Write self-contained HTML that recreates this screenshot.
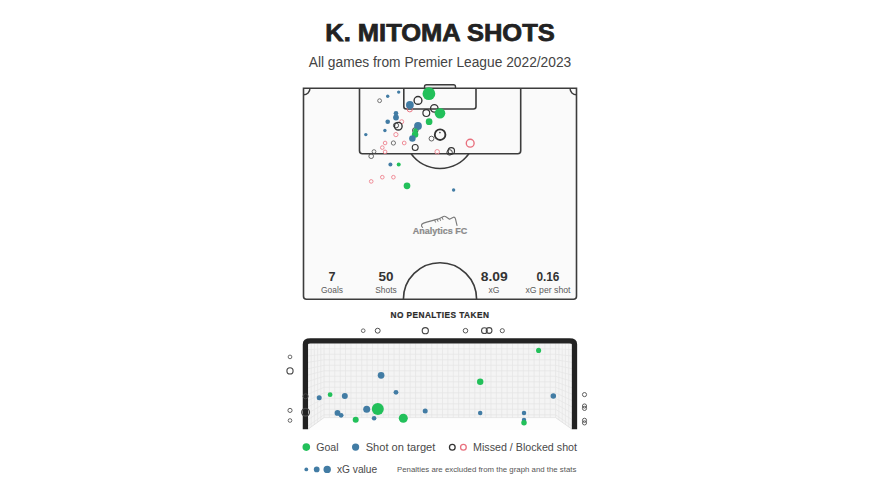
<!DOCTYPE html>
<html><head><meta charset="utf-8"><title>K. Mitoma Shots</title>
<style>html,body{margin:0;padding:0;background:#fff;width:880px;height:495px;overflow:hidden}svg{display:block}</style>
</head><body>
<svg width="880" height="495" viewBox="0 0 880 495" font-family='"Liberation Sans", Arial, sans-serif'>
<rect width="880" height="495" fill="#ffffff"/>
<path d="M424.5,88.3 L424.5,86.8 Q424.5,84.8 426.5,84.8 L453.5,84.8 Q455.5,84.8 455.5,86.8 L455.5,88.3" fill="#ececec" stroke="#3c3c3c" stroke-width="1.4"/><path d="M303.5,88.3 L576.5,88.3 L576.5,296.3 Q576.5,299.3 573.5,299.3 L306.5,299.3 Q303.5,299.3 303.5,296.3 Z" fill="#fafafa" stroke="#3c3c3c" stroke-width="1.6"/><path d="M359.5,88.3 L359.5,150.8 Q359.5,153.8 362.5,153.8 L517.7,153.8 Q520.7,153.8 520.7,150.8 L520.7,88.3" fill="none" stroke="#3c3c3c" stroke-width="1.6"/><path d="M403.8,88.3 L403.8,106.5 Q403.8,109.0 406.3,109.0 L473.5,109.0 Q476.0,109.0 476.0,106.5 L476.0,88.3" fill="none" stroke="#3c3c3c" stroke-width="1.6"/><path d="M411.13,153.8 A35.7,35.7 0 0 0 468.87,153.8" fill="none" stroke="#3c3c3c" stroke-width="1.6"/><path d="M403.4,299.3 A36.6,36.6 0 0 1 476.6,299.3" fill="none" stroke="#3c3c3c" stroke-width="1.6"/><path d="M310.0,88.3 A6.5,6.5 0 0 1 303.5,94.8" fill="none" stroke="#3c3c3c" stroke-width="1.4"/><path d="M570.0,88.3 A6.5,6.5 0 0 0 576.5,94.8" fill="none" stroke="#3c3c3c" stroke-width="1.4"/>
<path d="M422.6,227.4 C421,226 420.9,224.1 423.6,223.1 C428,221.6 434,220.4 438.6,218.9 L443.4,216.5 Q444.8,215.8 446.3,217 L449.5,219.2 L453.4,217.2 Q454.8,216.8 455.4,218.6 L457,225.4" fill="none" stroke="#7a7a7a" stroke-width="1.15" stroke-linejoin="round" stroke-linecap="round"/><path d="M434.6,219.9 l1,2.6 M437.1,219.1 l1,2.6 M439.6,218.2 l1,2.6 M442.1,217.2 l1,2.6" stroke="#7a7a7a" stroke-width="1"/>
<circle cx="398.7" cy="92.1" r="1.70" fill="#427ca4"/><circle cx="387.7" cy="96.3" r="1.70" fill="#427ca4"/><circle cx="379.6" cy="100.7" r="1.92" fill="none" stroke="#4a4a4a" stroke-width="0.75"/><circle cx="409.8" cy="109.3" r="2.62" fill="none" stroke="#e8707e" stroke-width="0.95"/><circle cx="409.9" cy="104.9" r="3.90" fill="#427ca4"/><circle cx="428.9" cy="93.7" r="6.40" fill="#22c05a"/><circle cx="418" cy="100.4" r="3.91" fill="none" stroke="#333333" stroke-width="1.38"/><circle cx="434.3" cy="108.3" r="3.74" fill="none" stroke="#333333" stroke-width="1.32"/><circle cx="426.3" cy="113.1" r="3.40" fill="none" stroke="#333333" stroke-width="1.2"/><circle cx="440" cy="113.3" r="5.30" fill="#22c05a"/><circle cx="396" cy="113.2" r="2.30" fill="#427ca4"/><circle cx="396" cy="117.5" r="2.90" fill="#427ca4"/><circle cx="387.7" cy="121.7" r="2.30" fill="#427ca4"/><circle cx="401.7" cy="121.7" r="2.02" fill="none" stroke="#ee8792" stroke-width="0.95"/><circle cx="396" cy="125.4" r="2.55" fill="none" stroke="#333333" stroke-width="0.8999999999999999"/><circle cx="398.3" cy="126.2" r="3.83" fill="none" stroke="#333333" stroke-width="1.3499999999999999"/><circle cx="429.1" cy="121.7" r="3.35" fill="#22c05a"/><circle cx="415.3" cy="130.4" r="2.76" fill="none" stroke="#333333" stroke-width="0.975"/><circle cx="418" cy="126" r="3.90" fill="#427ca4"/><circle cx="415.4" cy="130.6" r="2.25" fill="#22c05a"/><circle cx="415.1" cy="134.5" r="3.25" fill="#22c05a"/><circle cx="412.4" cy="138.6" r="3.25" fill="#427ca4"/><circle cx="440.1" cy="134.7" r="5.31" fill="none" stroke="#333333" stroke-width="1.875"/><circle cx="439.9" cy="132.5" r="0.85" fill="#444"/><circle cx="431.5" cy="138.6" r="2.42" fill="none" stroke="#4a4a4a" stroke-width="0.855"/><circle cx="384.9" cy="130.5" r="1.70" fill="#427ca4"/><circle cx="365.8" cy="134.6" r="1.70" fill="#427ca4"/><circle cx="395.9" cy="134.6" r="2.12" fill="none" stroke="#ee8792" stroke-width="0.95"/><circle cx="385.1" cy="143" r="1.82" fill="none" stroke="#ee8792" stroke-width="0.95"/><circle cx="393.4" cy="143" r="2.12" fill="none" stroke="#4a4a4a" stroke-width="0.75"/><circle cx="404.2" cy="143" r="1.88" fill="none" stroke="#ee8792" stroke-width="0.95"/><circle cx="382.3" cy="147.6" r="1.82" fill="none" stroke="#ee8792" stroke-width="0.95"/><circle cx="385.1" cy="151.9" r="1.82" fill="none" stroke="#ee8792" stroke-width="0.95"/><circle cx="374" cy="151.6" r="1.92" fill="none" stroke="#4a4a4a" stroke-width="0.75"/><circle cx="371.2" cy="156.2" r="2.34" fill="none" stroke="#4a4a4a" stroke-width="0.825"/><circle cx="415.2" cy="147.5" r="2.98" fill="none" stroke="#333333" stroke-width="1.05"/><circle cx="437.2" cy="151.8" r="2.27" fill="none" stroke="#ee8792" stroke-width="0.95"/><circle cx="451.3" cy="150.9" r="3.23" fill="none" stroke="#333333" stroke-width="1.14"/><circle cx="449.6" cy="152.4" r="2.72" fill="none" stroke="#333333" stroke-width="0.96"/><circle cx="470.2" cy="143.2" r="3.91" fill="none" stroke="#e8707e" stroke-width="1.38"/><circle cx="390.4" cy="164.4" r="2.00" fill="#427ca4"/><circle cx="398.7" cy="164.4" r="2.00" fill="#22c05a"/><circle cx="382.3" cy="177.2" r="1.82" fill="none" stroke="#ee8792" stroke-width="0.95"/><circle cx="393.4" cy="177.2" r="1.82" fill="none" stroke="#ee8792" stroke-width="0.95"/><circle cx="371.2" cy="181.4" r="1.82" fill="none" stroke="#ee8792" stroke-width="0.95"/><circle cx="407" cy="185.8" r="3.35" fill="#22c05a"/><circle cx="453.6" cy="190" r="1.70" fill="#427ca4"/>
<rect x="308.0" y="343.6" width="264.0" height="85.59999999999997" fill="#f4f4f4"/><path d="M308.0,429.2 L324.0,417.6 L555.6,417.6 L572.0,429.2 Z" fill="#fdfdfd"/><line x1="329.39" y1="343.6" x2="329.39" y2="417.6" stroke="#e6e6e6" stroke-width="0.75"/><line x1="334.77" y1="343.6" x2="334.77" y2="417.6" stroke="#e6e6e6" stroke-width="0.75"/><line x1="340.16" y1="343.6" x2="340.16" y2="417.6" stroke="#e6e6e6" stroke-width="0.75"/><line x1="345.54" y1="343.6" x2="345.54" y2="417.6" stroke="#e6e6e6" stroke-width="0.75"/><line x1="350.93" y1="343.6" x2="350.93" y2="417.6" stroke="#e6e6e6" stroke-width="0.75"/><line x1="356.32" y1="343.6" x2="356.32" y2="417.6" stroke="#e6e6e6" stroke-width="0.75"/><line x1="361.70" y1="343.6" x2="361.70" y2="417.6" stroke="#e6e6e6" stroke-width="0.75"/><line x1="367.09" y1="343.6" x2="367.09" y2="417.6" stroke="#e6e6e6" stroke-width="0.75"/><line x1="372.47" y1="343.6" x2="372.47" y2="417.6" stroke="#e6e6e6" stroke-width="0.75"/><line x1="377.86" y1="343.6" x2="377.86" y2="417.6" stroke="#e6e6e6" stroke-width="0.75"/><line x1="383.25" y1="343.6" x2="383.25" y2="417.6" stroke="#e6e6e6" stroke-width="0.75"/><line x1="388.63" y1="343.6" x2="388.63" y2="417.6" stroke="#e6e6e6" stroke-width="0.75"/><line x1="394.02" y1="343.6" x2="394.02" y2="417.6" stroke="#e6e6e6" stroke-width="0.75"/><line x1="399.40" y1="343.6" x2="399.40" y2="417.6" stroke="#e6e6e6" stroke-width="0.75"/><line x1="404.79" y1="343.6" x2="404.79" y2="417.6" stroke="#e6e6e6" stroke-width="0.75"/><line x1="410.18" y1="343.6" x2="410.18" y2="417.6" stroke="#e6e6e6" stroke-width="0.75"/><line x1="415.56" y1="343.6" x2="415.56" y2="417.6" stroke="#e6e6e6" stroke-width="0.75"/><line x1="420.95" y1="343.6" x2="420.95" y2="417.6" stroke="#e6e6e6" stroke-width="0.75"/><line x1="426.33" y1="343.6" x2="426.33" y2="417.6" stroke="#e6e6e6" stroke-width="0.75"/><line x1="431.72" y1="343.6" x2="431.72" y2="417.6" stroke="#e6e6e6" stroke-width="0.75"/><line x1="437.11" y1="343.6" x2="437.11" y2="417.6" stroke="#e6e6e6" stroke-width="0.75"/><line x1="442.49" y1="343.6" x2="442.49" y2="417.6" stroke="#e6e6e6" stroke-width="0.75"/><line x1="447.88" y1="343.6" x2="447.88" y2="417.6" stroke="#e6e6e6" stroke-width="0.75"/><line x1="453.27" y1="343.6" x2="453.27" y2="417.6" stroke="#e6e6e6" stroke-width="0.75"/><line x1="458.65" y1="343.6" x2="458.65" y2="417.6" stroke="#e6e6e6" stroke-width="0.75"/><line x1="464.04" y1="343.6" x2="464.04" y2="417.6" stroke="#e6e6e6" stroke-width="0.75"/><line x1="469.42" y1="343.6" x2="469.42" y2="417.6" stroke="#e6e6e6" stroke-width="0.75"/><line x1="474.81" y1="343.6" x2="474.81" y2="417.6" stroke="#e6e6e6" stroke-width="0.75"/><line x1="480.20" y1="343.6" x2="480.20" y2="417.6" stroke="#e6e6e6" stroke-width="0.75"/><line x1="485.58" y1="343.6" x2="485.58" y2="417.6" stroke="#e6e6e6" stroke-width="0.75"/><line x1="490.97" y1="343.6" x2="490.97" y2="417.6" stroke="#e6e6e6" stroke-width="0.75"/><line x1="496.35" y1="343.6" x2="496.35" y2="417.6" stroke="#e6e6e6" stroke-width="0.75"/><line x1="501.74" y1="343.6" x2="501.74" y2="417.6" stroke="#e6e6e6" stroke-width="0.75"/><line x1="507.13" y1="343.6" x2="507.13" y2="417.6" stroke="#e6e6e6" stroke-width="0.75"/><line x1="512.51" y1="343.6" x2="512.51" y2="417.6" stroke="#e6e6e6" stroke-width="0.75"/><line x1="517.90" y1="343.6" x2="517.90" y2="417.6" stroke="#e6e6e6" stroke-width="0.75"/><line x1="523.28" y1="343.6" x2="523.28" y2="417.6" stroke="#e6e6e6" stroke-width="0.75"/><line x1="528.67" y1="343.6" x2="528.67" y2="417.6" stroke="#e6e6e6" stroke-width="0.75"/><line x1="534.06" y1="343.6" x2="534.06" y2="417.6" stroke="#e6e6e6" stroke-width="0.75"/><line x1="539.44" y1="343.6" x2="539.44" y2="417.6" stroke="#e6e6e6" stroke-width="0.75"/><line x1="544.83" y1="343.6" x2="544.83" y2="417.6" stroke="#e6e6e6" stroke-width="0.75"/><line x1="550.21" y1="343.6" x2="550.21" y2="417.6" stroke="#e6e6e6" stroke-width="0.75"/><line x1="324.0" y1="348.80" x2="555.6" y2="348.80" stroke="#e6e6e6" stroke-width="0.75"/><line x1="324.0" y1="354.30" x2="555.6" y2="354.30" stroke="#e6e6e6" stroke-width="0.75"/><line x1="324.0" y1="359.80" x2="555.6" y2="359.80" stroke="#e6e6e6" stroke-width="0.75"/><line x1="324.0" y1="365.30" x2="555.6" y2="365.30" stroke="#e6e6e6" stroke-width="0.75"/><line x1="324.0" y1="370.80" x2="555.6" y2="370.80" stroke="#e6e6e6" stroke-width="0.75"/><line x1="324.0" y1="376.30" x2="555.6" y2="376.30" stroke="#e6e6e6" stroke-width="0.75"/><line x1="324.0" y1="381.80" x2="555.6" y2="381.80" stroke="#e6e6e6" stroke-width="0.75"/><line x1="324.0" y1="387.30" x2="555.6" y2="387.30" stroke="#e6e6e6" stroke-width="0.75"/><line x1="324.0" y1="392.80" x2="555.6" y2="392.80" stroke="#e6e6e6" stroke-width="0.75"/><line x1="324.0" y1="398.30" x2="555.6" y2="398.30" stroke="#e6e6e6" stroke-width="0.75"/><line x1="324.0" y1="403.80" x2="555.6" y2="403.80" stroke="#e6e6e6" stroke-width="0.75"/><line x1="324.0" y1="409.30" x2="555.6" y2="409.30" stroke="#e6e6e6" stroke-width="0.75"/><line x1="324.0" y1="414.80" x2="555.6" y2="414.80" stroke="#e6e6e6" stroke-width="0.75"/><line x1="311.20" y1="343.6" x2="311.20" y2="426.88" stroke="#e6e6e6" stroke-width="0.75"/><line x1="568.72" y1="343.6" x2="568.72" y2="426.88" stroke="#e6e6e6" stroke-width="0.75"/><line x1="314.40" y1="343.6" x2="314.40" y2="424.56" stroke="#e6e6e6" stroke-width="0.75"/><line x1="565.44" y1="343.6" x2="565.44" y2="424.56" stroke="#e6e6e6" stroke-width="0.75"/><line x1="317.60" y1="343.6" x2="317.60" y2="422.24" stroke="#e6e6e6" stroke-width="0.75"/><line x1="562.16" y1="343.6" x2="562.16" y2="422.24" stroke="#e6e6e6" stroke-width="0.75"/><line x1="320.80" y1="343.6" x2="320.80" y2="419.92" stroke="#e6e6e6" stroke-width="0.75"/><line x1="558.88" y1="343.6" x2="558.88" y2="419.92" stroke="#e6e6e6" stroke-width="0.75"/><line x1="308.0" y1="349.62" x2="324.0" y2="348.80" stroke="#e6e6e6" stroke-width="0.75"/><line x1="572.0" y1="349.62" x2="555.6" y2="348.80" stroke="#e6e6e6" stroke-width="0.75"/><line x1="308.0" y1="355.98" x2="324.0" y2="354.30" stroke="#e6e6e6" stroke-width="0.75"/><line x1="572.0" y1="355.98" x2="555.6" y2="354.30" stroke="#e6e6e6" stroke-width="0.75"/><line x1="308.0" y1="362.34" x2="324.0" y2="359.80" stroke="#e6e6e6" stroke-width="0.75"/><line x1="572.0" y1="362.34" x2="555.6" y2="359.80" stroke="#e6e6e6" stroke-width="0.75"/><line x1="308.0" y1="368.70" x2="324.0" y2="365.30" stroke="#e6e6e6" stroke-width="0.75"/><line x1="572.0" y1="368.70" x2="555.6" y2="365.30" stroke="#e6e6e6" stroke-width="0.75"/><line x1="308.0" y1="375.06" x2="324.0" y2="370.80" stroke="#e6e6e6" stroke-width="0.75"/><line x1="572.0" y1="375.06" x2="555.6" y2="370.80" stroke="#e6e6e6" stroke-width="0.75"/><line x1="308.0" y1="381.43" x2="324.0" y2="376.30" stroke="#e6e6e6" stroke-width="0.75"/><line x1="572.0" y1="381.43" x2="555.6" y2="376.30" stroke="#e6e6e6" stroke-width="0.75"/><line x1="308.0" y1="387.79" x2="324.0" y2="381.80" stroke="#e6e6e6" stroke-width="0.75"/><line x1="572.0" y1="387.79" x2="555.6" y2="381.80" stroke="#e6e6e6" stroke-width="0.75"/><line x1="308.0" y1="394.15" x2="324.0" y2="387.30" stroke="#e6e6e6" stroke-width="0.75"/><line x1="572.0" y1="394.15" x2="555.6" y2="387.30" stroke="#e6e6e6" stroke-width="0.75"/><line x1="308.0" y1="400.51" x2="324.0" y2="392.80" stroke="#e6e6e6" stroke-width="0.75"/><line x1="572.0" y1="400.51" x2="555.6" y2="392.80" stroke="#e6e6e6" stroke-width="0.75"/><line x1="308.0" y1="406.87" x2="324.0" y2="398.30" stroke="#e6e6e6" stroke-width="0.75"/><line x1="572.0" y1="406.87" x2="555.6" y2="398.30" stroke="#e6e6e6" stroke-width="0.75"/><line x1="308.0" y1="413.24" x2="324.0" y2="403.80" stroke="#e6e6e6" stroke-width="0.75"/><line x1="572.0" y1="413.24" x2="555.6" y2="403.80" stroke="#e6e6e6" stroke-width="0.75"/><line x1="308.0" y1="419.60" x2="324.0" y2="409.30" stroke="#e6e6e6" stroke-width="0.75"/><line x1="572.0" y1="419.60" x2="555.6" y2="409.30" stroke="#e6e6e6" stroke-width="0.75"/><line x1="308.0" y1="425.96" x2="324.0" y2="414.80" stroke="#e6e6e6" stroke-width="0.75"/><line x1="572.0" y1="425.96" x2="555.6" y2="414.80" stroke="#e6e6e6" stroke-width="0.75"/><line x1="324.0" y1="343.6" x2="324.0" y2="417.6" stroke="#e4e4e4" stroke-width="0.8"/><line x1="555.6" y1="343.6" x2="555.6" y2="417.6" stroke="#e4e4e4" stroke-width="0.8"/><line x1="308.0" y1="429.2" x2="324.0" y2="417.6" stroke="#e0e0e0" stroke-width="0.9"/><line x1="572.0" y1="429.2" x2="555.6" y2="417.6" stroke="#e0e0e0" stroke-width="0.9"/><line x1="324.0" y1="417.6" x2="555.6" y2="417.6" stroke="#e2e2e2" stroke-width="0.8"/><path d="M305.4,429.2 L305.4,344.2 Q305.4,340.9 310.4,340.9 L569.5,340.9 Q574.5,340.9 574.5,344.2 L574.5,429.2" fill="none" stroke="#222" stroke-width="5.3"/>
<circle cx="363.2" cy="330.7" r="1.85" fill="none" stroke="#474747" stroke-width="0.79"/><circle cx="377.7" cy="330.7" r="2.47" fill="none" stroke="#474747" stroke-width="0.958"/><circle cx="425.3" cy="330.7" r="3.09" fill="none" stroke="#474747" stroke-width="1.126"/><circle cx="465.5" cy="330.7" r="2.29" fill="none" stroke="#474747" stroke-width="0.9099999999999999"/><circle cx="484.4" cy="330.7" r="2.87" fill="none" stroke="#474747" stroke-width="1.0659999999999998"/><circle cx="489.1" cy="330.5" r="2.87" fill="none" stroke="#474747" stroke-width="1.0659999999999998"/><circle cx="502.3" cy="330.7" r="2.08" fill="none" stroke="#474747" stroke-width="0.85"/><circle cx="290" cy="356.9" r="1.85" fill="none" stroke="#474747" stroke-width="0.79"/><circle cx="290" cy="370.9" r="3.09" fill="none" stroke="#474747" stroke-width="1.126"/><circle cx="290" cy="410.4" r="2.08" fill="none" stroke="#474747" stroke-width="0.85"/><circle cx="290" cy="420.5" r="1.85" fill="none" stroke="#474747" stroke-width="0.79"/><circle cx="305.6" cy="396.3" r="2.52" fill="none" stroke="#474747" stroke-width="0.97"/><circle cx="305.6" cy="412.2" r="3.83" fill="none" stroke="#474747" stroke-width="1.33"/><circle cx="584.5" cy="394.6" r="2.08" fill="none" stroke="#474747" stroke-width="0.85"/><circle cx="584.5" cy="406.0" r="2.08" fill="none" stroke="#474747" stroke-width="0.85"/><circle cx="584.5" cy="408.4" r="2.08" fill="none" stroke="#474747" stroke-width="0.85"/><circle cx="584.5" cy="420.3" r="2.08" fill="none" stroke="#474747" stroke-width="0.85"/><circle cx="584.5" cy="422.9" r="2.08" fill="none" stroke="#474747" stroke-width="0.85"/><circle cx="381.1" cy="375.3" r="3.35" fill="#427ca4"/><circle cx="319.2" cy="397.7" r="2.50" fill="#427ca4"/><circle cx="330.1" cy="394.7" r="2.40" fill="#22c05a"/><circle cx="344.8" cy="395.9" r="3.00" fill="#427ca4"/><circle cx="337.5" cy="412.9" r="2.90" fill="#427ca4"/><circle cx="341.1" cy="415.3" r="2.40" fill="#427ca4"/><circle cx="366.7" cy="409.2" r="3.50" fill="#427ca4"/><circle cx="377.8" cy="409.0" r="6.00" fill="#22c05a"/><circle cx="355.7" cy="419.8" r="3.00" fill="#22c05a"/><circle cx="374.1" cy="418.3" r="2.30" fill="#427ca4"/><circle cx="396" cy="392.3" r="2.40" fill="#427ca4"/><circle cx="425.2" cy="411.1" r="2.50" fill="#427ca4"/><circle cx="403.3" cy="418.3" r="4.50" fill="#22c05a"/><circle cx="538.6" cy="350.4" r="2.55" fill="#22c05a"/><circle cx="480.2" cy="381.8" r="3.20" fill="#22c05a"/><circle cx="553.3" cy="396" r="2.75" fill="#427ca4"/><circle cx="480.2" cy="413.1" r="2.25" fill="#427ca4"/><circle cx="524" cy="413.1" r="2.25" fill="#427ca4"/><circle cx="524" cy="420.1" r="2.25" fill="#427ca4"/><circle cx="524" cy="422.8" r="2.75" fill="#22c05a"/>
<circle cx="306.3" cy="447.1" r="3.80" fill="#22c05a"/><circle cx="355.6" cy="447.1" r="3.60" fill="#427ca4"/><circle cx="452.3" cy="447.2" r="2.85" fill="none" stroke="#333333" stroke-width="1.3"/><circle cx="463.4" cy="447.2" r="2.85" fill="none" stroke="#e8707e" stroke-width="1.3"/><circle cx="306.3" cy="469.4" r="1.90" fill="#427ca4"/><circle cx="316.7" cy="469.4" r="2.85" fill="#427ca4"/><circle cx="327.2" cy="469.4" r="3.70" fill="#427ca4"/>

<text x="440" y="40.6" text-anchor="middle" font-size="24.2px" font-weight="700" fill="#222" stroke="#222" stroke-width="0.75" textLength="229.5" lengthAdjust="spacingAndGlyphs">K. MITOMA SHOTS</text>
<text x="440" y="66.6" text-anchor="middle" font-size="14px" fill="#444" textLength="262.5" lengthAdjust="spacingAndGlyphs">All games from Premier League 2022/2023</text>
<g font-weight="700" fill="#333" font-size="12.6px" text-anchor="middle">
<text x="331.9" y="280.9">7</text>
<text x="386" y="280.9" textLength="15" lengthAdjust="spacingAndGlyphs">50</text>
<text x="494.2" y="280.9" textLength="27" lengthAdjust="spacingAndGlyphs">8.09</text>
<text x="547.9" y="280.9" textLength="23" lengthAdjust="spacingAndGlyphs">0.16</text>
</g>
<g fill="#5a5a5a" font-size="8.6px" text-anchor="middle">
<text x="332" y="292.5" textLength="22" lengthAdjust="spacingAndGlyphs">Goals</text>
<text x="386" y="292.5" textLength="21.5" lengthAdjust="spacingAndGlyphs">Shots</text>
<text x="494" y="292.5">xG</text>
<text x="548" y="292.5" textLength="45" lengthAdjust="spacingAndGlyphs">xG per shot</text>
</g>
<text x="440" y="234.1" text-anchor="middle" font-size="8.4px" font-weight="700" fill="#8a8a8a" stroke="#8a8a8a" stroke-width="0.2" textLength="54.5" lengthAdjust="spacingAndGlyphs">Analytics FC</text>
<g transform="translate(0,318) scale(1,1.08) translate(0,-318)"><text x="439.7" y="318" text-anchor="middle" font-size="8.3px" font-weight="700" fill="#2a2a2a" stroke="#2a2a2a" stroke-width="0.2" textLength="98.4" lengthAdjust="spacing">NO PENALTIES TAKEN</text></g>
<g fill="#4a4a4a" font-size="10px">
<text x="316.2" y="450.6" textLength="22.3" lengthAdjust="spacingAndGlyphs">Goal</text>
<text x="365.7" y="450.6" textLength="69.6" lengthAdjust="spacingAndGlyphs">Shot on target</text>
<text x="473.0" y="450.6" textLength="104" lengthAdjust="spacingAndGlyphs">Missed / Blocked shot</text>
<text x="337.0" y="472.8" textLength="40.2" lengthAdjust="spacingAndGlyphs">xG value</text>
</g>
<text x="397" y="472" font-size="6.3px" fill="#555" textLength="179.4" lengthAdjust="spacingAndGlyphs">Penalties are excluded from the graph and the stats</text>

</svg>
</body></html>
